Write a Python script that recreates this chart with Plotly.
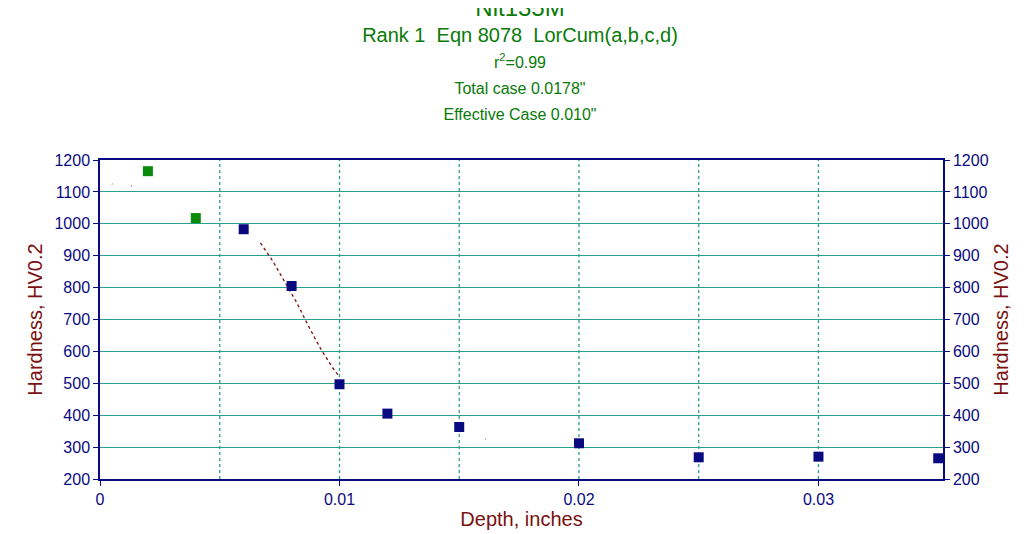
import plotly.graph_objects as go

# --- Data ---
green_x = [0.002, 0.004]
green_y = [1165, 1018]
blue_x = [0.006, 0.008, 0.010, 0.012, 0.015, 0.020, 0.025, 0.030, 0.035]
blue_y = [983, 805, 497, 405, 363, 312, 268, 270, 265]
# visible pieces of the fitted curve (gaps as None)
fit_x = [0.0005, 0.00052, None, 0.0013, 0.00132, None,
         0.0067, 0.0072, 0.0077, 0.0082, 0.0087, 0.0092, 0.0097, 0.0100,
         None, 0.0161, 0.01612]
fit_y = [1125, 1124, None, 1119, 1118, None,
         940, 885, 820, 755, 680, 610, 550, 520,
         None, 326, 325]

NAVY = "#0a0a80"
RED = "#7a1010"
GRID = "#2aa08c"

fig = go.Figure()
fig.add_trace(go.Scatter(x=fit_x, y=fit_y, mode="lines",
                         line=dict(color=RED, width=1.3, dash="dot"),
                         connectgaps=False, showlegend=False))
fig.add_trace(go.Scatter(x=green_x, y=green_y, mode="markers",
                         marker=dict(symbol="square", size=10, color="#0a8a0a"),
                         showlegend=False))
fig.add_trace(go.Scatter(x=blue_x, y=blue_y, mode="markers",
                         marker=dict(symbol="square", size=10, color=NAVY),
                         showlegend=False))
# dummy trace for right axis
fig.add_trace(go.Scatter(x=[None], y=[None], yaxis="y2", showlegend=False))

title = ("<span style='font-size:24px'>Nit135M</span><br>"
         "Rank 1  Eqn 8078  LorCum(a,b,c,d)<br>"
         "<span style='font-size:16px'>r<sup>2</sup>=0.99</span><br>"
         "<span style='font-size:16px'>Total case 0.0178\"</span><br>"
         "<span style='font-size:16px'>Effective Case 0.010\"</span>")

fig.update_layout(
    width=1024, height=534,
    paper_bgcolor="white", plot_bgcolor="white",
    font=dict(family="Liberation Sans, Arial", size=16, color=NAVY),
    margin=dict(l=92, r=89, t=152, b=63),
    title=dict(text=title, x=0.5, xanchor="center", y=0.985, yanchor="top",
               font=dict(size=20, color="#0a7a0a")),
    xaxis=dict(range=[0, 0.0352], tickvals=[0, 0.01, 0.02, 0.03],
               ticktext=["0", "0.01", "0.02", "0.03"],
               showgrid=False, showline=True, linecolor=NAVY, linewidth=1.5,
               mirror=True, ticks="outside", ticklen=5, tickcolor=NAVY,
               zeroline=False,
               title=dict(text="Depth, inches", font=dict(size=20, color=RED),
                          standoff=4)),
    yaxis=dict(range=[200, 1200], dtick=100, gridcolor=GRID, gridwidth=1.3,
               showline=True, linecolor=NAVY, linewidth=1.5,
               ticks="outside", ticklen=5, tickcolor=NAVY, zeroline=False,
               title=dict(text="Hardness, HV0.2", font=dict(size=20, color=RED),
                          standoff=6)),
    yaxis2=dict(range=[200, 1200], dtick=100, overlaying="y", side="right",
                showgrid=False, showline=True, linecolor=NAVY, linewidth=1.5,
                ticks="outside", ticklen=5, tickcolor=NAVY, zeroline=False,
                title=dict(text="Hardness, HV0.2", font=dict(size=20, color=RED),
                           standoff=6)),
)

# dotted vertical grid lines
for gx in [0.005, 0.010, 0.015, 0.020, 0.025, 0.030]:
    fig.add_vline(x=gx, line=dict(color=GRID, width=1.3, dash="dot"), layer="below")

fig.write_html("out.html")
